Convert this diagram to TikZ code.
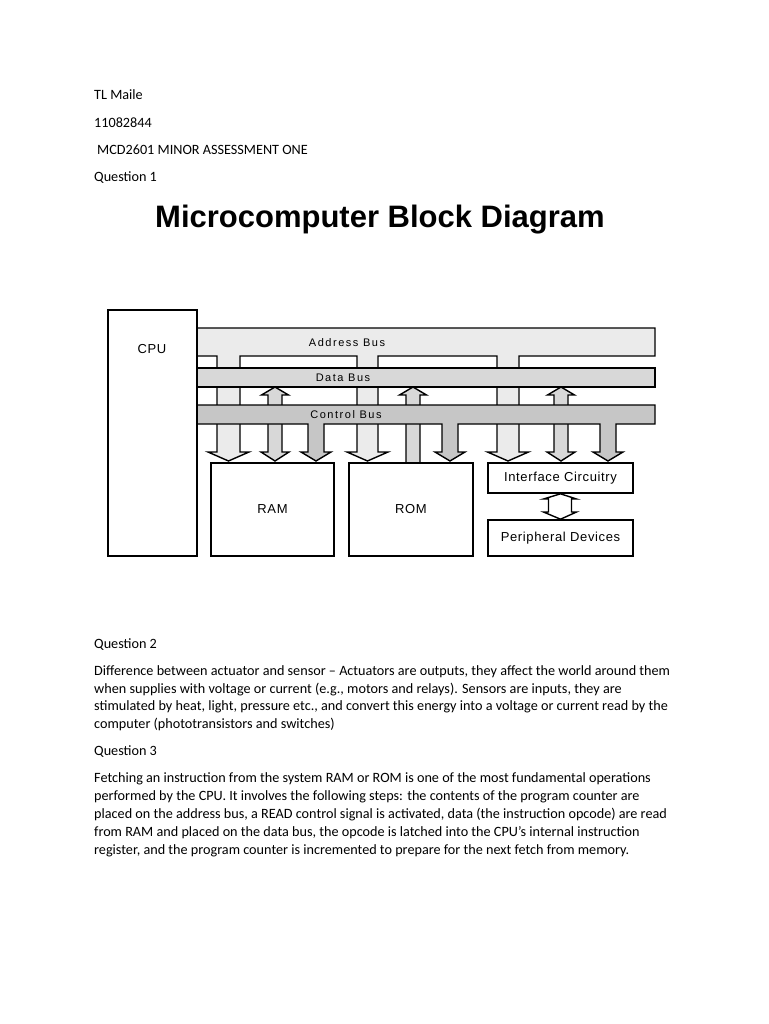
\documentclass[tikz,border=0pt]{standalone}
\usepackage{fontspec}
\setmainfont{Carlito}
\newfontfamily\diagfont{Liberation Sans}
\newfontfamily\boxfont[LetterSpace=5]{Liberation Sans}
\newfontfamily\busfont[LetterSpace=14]{Liberation Sans}
\definecolor{addrgray}{HTML}{EBEBEB}
\definecolor{datagray}{HTML}{D8D8D8}
\definecolor{ctrlgray}{HTML}{C6C6C6}

\begin{document}
\begin{tikzpicture}[x=1pt, y=-1pt, every node/.style={inner sep=0pt},
    pageline/.style={anchor=base west, font=\fontsize{14.2}{17}\selectfont},
    blockbox/.style={draw, line width=1.6pt, fill=white},
    blocklabel/.style={font=\boxfont\fontsize{13}{15}\selectfont},
    buslabel/.style={font=\busfont\fontsize{11}{13}\selectfont},
    busline/.style={draw, line width=1.4pt, line join=miter}]

  % ====== 0) page frame (768 x 1024) ======
  \useasboundingbox[fill=white] (0,0) rectangle (768,1024);

  % ====== 1) header lines ======
  \node[pageline] (name)   at (94,100) {TL Maile};
  \node[pageline] (number) at (94,128) {11082844};
  \node[pageline] (course) at (97,155) {MCD2601 MINOR ASSESSMENT ONE};
  \node[pageline] (qone)   at (94,182) {Question 1};

  % ====== 2) title of the diagram ======
  \node[anchor=base, font=\diagfont\bfseries\fontsize{31}{36}\selectfont] (title)
    at (380,228) {Microcomputer Block Diagram};

  % ====== 3) address bus with its three stems ======
  \path[busline, fill=addrgray] (197,328) -- (655,328) -- (655,356)
    -- (519,356) -- (519,452) -- (528.5,452) -- (508,461) -- (487.5,452) -- (497,452) -- (497,356)
    -- (378,356) -- (378,452) -- (388,452) -- (367.5,461) -- (347,452) -- (357,452) -- (357,356)
    -- (240,356) -- (240,452) -- (249,452) -- (228.5,461) -- (208,452) -- (217,452) -- (217,356)
    -- (197,356) -- cycle;

  % ====== 4) data arrows (two ways), then the data bus ======
  \foreach \x in {275,561} {
    \path[busline, fill=datagray] (\x,387) -- (\x+13.5,395) -- (\x+7,395) -- (\x+7,452)
      -- (\x+14,452) -- (\x,461) -- (\x-14,452) -- (\x-7,452) -- (\x-7,395)
      -- (\x-13.5,395) -- cycle;
  }
  \path[busline, fill=datagray] (413,387) -- (426.5,395) -- (420,395) -- (420,463)
    -- (406,463) -- (406,395) -- (399.5,395) -- cycle;
  \path[busline, fill=datagray] (197,368) rectangle (655,387);

  % ====== 5) control bus with its three stems ======
  \path[busline, fill=ctrlgray] (197,405) -- (655,405) -- (655,424)
    -- (616,424) -- (616,452) -- (623,452) -- (608,461) -- (593,452) -- (600,452) -- (600,424)
    -- (458,424) -- (458,452) -- (465,452) -- (450,461) -- (435,452) -- (442,452) -- (442,424)
    -- (324,424) -- (324,452) -- (331,452) -- (316,461) -- (301,452) -- (308,452) -- (308,424)
    -- (197,424) -- cycle;

  % ====== 6) bus labels ======
  \node[buslabel] (addrtext) at (347,343) {Address Bus};
  \node[buslabel] (datatext) at (343,377.5) {Data Bus};
  \node[buslabel] (ctrltext) at (346,414.5) {Control Bus};

  % ====== 7) blocks ======
  \node[blockbox, minimum width=89pt, minimum height=246pt] (cpu) at (152.5,433) {};
  \node[blocklabel] (cputext) at (152,349) {CPU};
  \node[blockbox, minimum width=123pt, minimum height=93pt] (ram) at (272.5,509.5) {};
  \node[blocklabel] at (ram) {RAM};
  \node[blockbox, minimum width=124pt, minimum height=93pt] (rom) at (411,509.5) {};
  \node[blocklabel] at (rom) {ROM};
  \node[blockbox, minimum width=145pt, minimum height=30pt] (iface) at (560.5,478) {};
  \node[blocklabel] at (iface) {Interface Circuitry};
  \node[blockbox, minimum width=145pt, minimum height=36pt] (periph) at (560.5,538) {};
  \node[blocklabel] at (periph) {Peripheral Devices};

  % ====== 8) link between interface and devices ======
  \path[busline, fill=white] (iface.south) -- (576.5,499) -- (571.5,499) -- (571.5,512)
    -- (576.5,512) -- (periph.north) -- (543.5,512) -- (548.5,512) -- (548.5,499)
    -- (543.5,499) -- cycle;

  % ====== 9) question 2 ======
  \node[pageline] (qtwo) at (94,648.5) {Question 2};
  \node[pageline] (qtwoa) at (94,675.5) {Difference between actuator and sensor -- Actuators are outputs, they affect the world around them};
  \node[pageline] (qtwob) at (94,693) {when supplies with voltage or current (e.g., motors and relays). Sensors are inputs, they are};
  \node[pageline] (qtwoc) at (94,710.5) {stimulated by heat, light, pressure etc., and convert this energy into a voltage or current read by the};
  \node[pageline] (qtwod) at (94,728) {computer (phototransistors and switches)};

  % ====== 10) question 3 ======
  \node[pageline] (qthree) at (94,755.5) {Question 3};
  \node[pageline] (qthreea) at (94,782.5) {Fetching an instruction from the system RAM or ROM is one of the most fundamental operations};
  \node[pageline] (qthreeb) at (94,800.5) {performed by the CPU. It involves the following steps: the contents of the program counter are};
  \node[pageline] (qthreec) at (94,818.5) {placed on the address bus, a READ control signal is activated, data (the instruction opcode) are read};
  \node[pageline] (qthreed) at (94,836.5) {from RAM and placed on the data bus, the opcode is latched into the CPU's internal instruction};
  \node[pageline] (qthreee) at (94,854.5) {register, and the program counter is incremented to prepare for the next fetch from memory.};

\end{tikzpicture}
\end{document}
